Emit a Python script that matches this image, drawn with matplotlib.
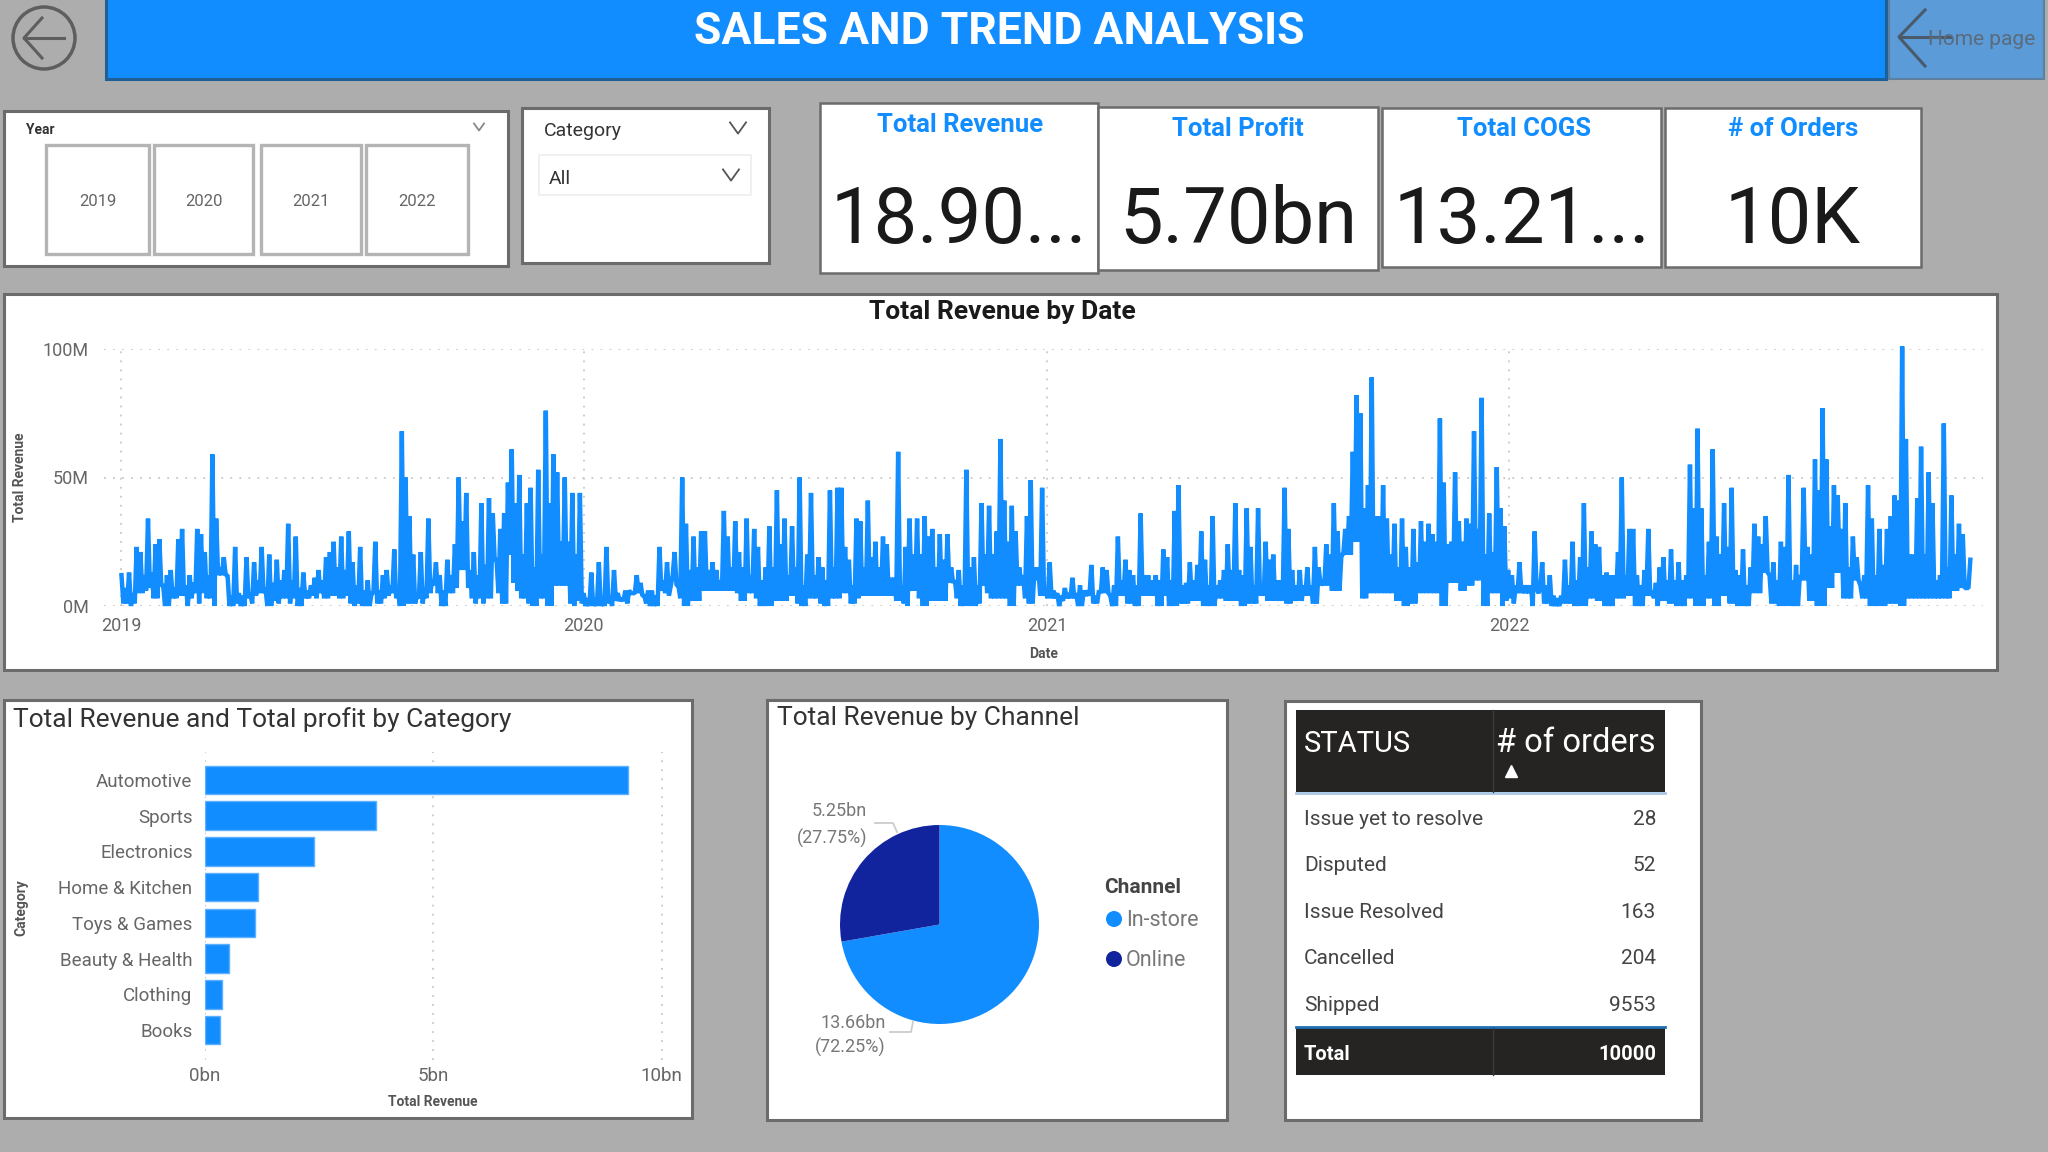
import matplotlib
matplotlib.use('Agg')
import matplotlib.pyplot as plt
import matplotlib.dates as mdates
from matplotlib.patches import Rectangle, Circle
import pandas as pd

# revenue per date in millions: upper readings every 3 days, and the dip read between them
high_2019 = [12,7,13,5,23,21,12,34,13,24,
             26,8,12,14,7,26,30,8,12,9,
             30,28,21,12,59,34,15,19,12,4,
             23,5,4,19,5,17,10,23,7,20,
             9,18,10,14,32,10,27,7,13,6,
             8,11,14,10,19,21,25,15,27,14,
             29,17,8,23,6,10,5,25,6,12,
             14,8,22,6,68,50,35,20,4,21,
             7,34,10,17,12,6,18,12,24,50,
             33,44,14,21,12,40,16,42,36,18,
             30,36,48,61,40,51,20,40,46,15,
             53,20,76,40,59,52,25,50,25,44,
             20,44]
low_2019 = [1,1,0,1,5,5,6,7,3,3,
            8,0,0,3,3,4,4,0,3,5,
            1,5,3,3,0,12,12,12,0,0,
            1,0,0,3,1,4,5,5,0,0,
            2,1,3,3,1,3,0,0,3,3,
            4,3,5,3,3,4,4,3,3,4,
            1,0,1,0,0,0,5,1,1,3,
            4,5,3,0,0,1,1,1,3,1,
            3,5,8,5,0,0,5,5,7,14,
            14,7,3,1,3,1,3,3,18,5,
            1,1,20,9,6,3,3,1,0,0,
            3,3,0,0,8,8,8,8,1,0,
            2,1]
high_2020 = [5,3,13,3,17,3,23,4,14,5,
             3,6,6,5,12,9,4,6,6,4,
             23,10,17,8,21,8,50,32,14,27,
             15,29,29,14,17,14,10,37,27,15,
             33,21,15,34,12,30,23,10,15,31,
             15,45,24,34,12,31,15,50,8,20,
             44,12,19,15,10,45,15,46,46,23,
             18,8,34,33,15,41,19,25,15,27,
             24,11,11,60,8,23,34,20,34,20,
             35,27,30,15,28,18,28,15,10,14,
             8,53,15,19,8,40,20,39,20,29,
             65,41,25,39,29,15,12,35,49,15,
             15,46]
low_2020 = [0,0,0,0,0,0,1,0,2,2,
            2,1,5,5,5,4,1,0,0,0,
            6,5,4,12,8,3,0,0,2,2,
            2,6,6,6,6,6,6,6,6,6,
            5,2,2,5,5,3,0,0,0,0,
            2,2,2,2,4,4,1,0,0,3,
            3,3,1,0,0,3,3,3,5,5,
            1,1,3,4,4,4,4,4,4,4,
            4,4,2,2,1,0,6,6,3,0,
            0,2,2,2,2,2,9,9,3,0,
            0,0,0,0,1,8,5,3,3,3,
            3,3,0,0,8,8,3,1,1,10,
            4,4]
high_2021 = [6,17,6,5,4,7,5,11,5,8,
             6,6,16,4,6,15,14,4,8,27,
             10,18,14,12,8,36,12,12,10,12,
             10,22,19,10,37,47,8,9,17,10,
             16,29,18,8,35,8,10,14,24,14,
             40,14,12,38,23,8,38,8,25,18,
             20,10,10,46,30,14,8,14,8,15,
             8,23,15,10,24,20,40,29,20,30,
             35,60,82,75,38,47,89,35,35,47,
             34,20,32,15,34,23,15,30,17,33,
             25,32,28,25,73,48,24,25,52,33,
             25,34,32,68,30,81,20,36,21,54,
             38,31]
low_2021 = [3,3,3,0,2,3,3,3,0,0,
            4,4,1,1,5,5,5,0,0,4,
            4,1,1,0,0,4,4,4,4,0,
            0,4,0,0,0,1,1,1,2,2,
            2,0,0,0,0,3,3,2,2,2,
            2,0,0,1,1,1,4,4,2,2,
            2,2,2,1,1,2,2,2,4,4,
            1,1,8,8,8,6,6,6,20,20,
            20,25,25,3,3,5,5,5,5,5,
            5,5,2,2,0,0,1,1,5,5,
            5,5,5,5,0,0,9,9,9,6,
            6,8,8,10,10,0,0,5,5,5,
            0,2]
high_2022 = [14,12,8,17,8,8,8,29,5,17,
             8,12,4,3,4,18,8,25,10,19,
             40,15,29,24,23,12,13,12,12,21,
             50,12,30,30,12,8,14,30,6,9,
             15,19,10,22,10,17,10,12,55,38,
             69,38,12,25,61,27,20,40,23,46,
             14,12,22,8,15,32,27,24,35,12,
             17,10,25,23,51,10,16,12,46,23,
             20,57,45,77,57,31,47,43,30,40,
             15,27,19,8,12,47,34,12,30,16,
             30,35,43,41,101,65,20,20,42,62,
             20,52,40,10,12,71,15,43,20,32,
             28,7,18]
low_2022 = [3,1,5,5,5,5,0,7,7,1,
            1,0,0,0,1,1,1,0,0,0,
            0,3,3,2,2,0,0,0,3,3,
            3,4,4,0,0,0,4,4,3,0,
            2,2,1,1,0,0,0,3,3,0,
            0,0,3,3,0,0,4,4,1,1,
            0,0,0,0,5,5,5,13,13,1,
            1,0,0,0,0,0,0,10,10,2,
            2,0,0,0,7,7,13,13,3,3,
            3,10,10,3,3,0,0,0,0,0,
            1,1,1,0,0,3,3,3,3,3,
            3,3,3,3,3,3,3,6,6,7,
            7,7]

years = ['2019', '2020', '2021', '2022']
categories = ['Automotive', 'Sports', 'Electronics', 'Home & Kitchen', 'Toys & Games', 'Beauty & Health', 'Clothing', 'Books']
cat_revenue = [9.27, 3.74, 2.38, 1.16, 1.10, 0.53, 0.38, 0.32]
channels = ['In-store', 'Online']
channel_revenue = [13.66, 5.25]
channel_share = [72.25, 27.75]
status = ['Issue yet to resolve', 'Disputed', 'Issue Resolved', 'Cancelled', 'Shipped']
status_orders = [28, 52, 163, 204, 9553]
kpi_names = ['Total Revenue', 'Total Profit', 'Total COGS', '# of Orders']
kpi_values = ['18.90...', '5.70bn', '13.21...', '10K']

BLUE = '#118DFF'
NAVY = '#12239E'
W, H = 2048, 1152
plt.rcParams['font.family'] = ['Roboto', 'DejaVu Sans']

fig = plt.figure(figsize=(W / 100, H / 100), dpi=100, facecolor='#ADADAD')
bg = fig.add_axes([0, 0, 1, 1])
bg.set_xlim(0, W)
bg.set_ylim(H, 0)
bg.axis('off')


def px_axes(x0, y0, x1, y1):
    ax = fig.add_axes([x0 / W, 1 - y1 / H, (x1 - x0) / W, (y1 - y0) / H])
    ax.patch.set_alpha(0)
    return ax


def panel(x0, y0, x1, y1, lw=2.2):
    bg.add_patch(Rectangle((x0, y0), x1 - x0, y1 - y0, fc='white', ec='#6B6B6B', lw=lw))


def chevron(x, y, size=8, color='#555555'):
    bg.plot([x - size, x, x + size], [y - size * 0.7, y + size * 0.7, y - size * 0.7], color=color, lw=1.3)


def label(x, y, s, **kw):
    kw.setdefault('va', 'center')
    return bg.text(x, y + 2.5, s, **kw)


# header
bg.add_patch(Rectangle((106, -3), 1780, 82, fc=BLUE, ec='#1D5F96', lw=2.2))
label(999, 30, 'SALES AND TREND ANALYSIS', color='white', fontsize=32, fontweight='bold', ha='center')
bg.add_patch(Circle((44, 38), 31, fc='none', ec='#5E5E5E', lw=2.5))
bg.plot([24, 64], [38, 38], color='#5E5E5E', lw=2.2)
bg.plot([42, 24, 42], [18, 38, 58], color='#5E5E5E', lw=2.2)
bg.add_patch(Rectangle((1889, -3), 155, 82, fc='#5B9BD8', ec='#5F7F9F', lw=1.5))
bg.plot([1900, 1950], [37, 37], color='#4A5A6A', lw=2.2)
bg.plot([1925, 1899, 1925], [10, 37, 66], color='#4A5A6A', lw=2.2)
label(1982, 37, 'Home page', color='#5A6B7C', fontsize=15, ha='center')

# year slicer
panel(4, 111, 508, 266)
label(26, 127, 'Year', color='#333333', fontsize=10, fontweight='bold')
chevron(479, 127, 5, '#888888')
button_x = [(46, 149), (154, 253), (261, 361), (366, 468)]
for (x0, x1), yr in zip(button_x, years):
    bg.add_patch(Rectangle((x0, 145), x1 - x0, 109, fc='white', ec='#B4B4B4', lw=2.4))
    label((x0 + x1) / 2, 199, yr, color='#666666', fontsize=12, ha='center')

# category slicer
panel(522, 108, 769, 263)
label(544, 128, 'Category', color='#333333', fontsize=14)
chevron(738, 128)
bg.add_patch(Rectangle((539, 155), 212, 40, fc='white', ec='#EEEEEE', lw=1.2))
label(549, 176, 'All', color='#333333', fontsize=14)
chevron(731, 175)

# kpi cards
card_x = [(820, 1098), (1098, 1378), (1382, 1661), (1665, 1921)]
card_y = [(103, 273), (107, 270), (108, 267), (108, 267)]
label_x = [960, 1238, 1524, 1793]
label_y = [122, 127, 127, 127]
for i in range(4):
    x0, x1 = card_x[i]
    y0, y1 = card_y[i]
    panel(x0, y0, x1, y1, 1.8)
    label(label_x[i], label_y[i], kpi_names[i], color=BLUE, fontsize=18.5, fontweight='bold', ha='center')
    label((x0 + x1) / 2, 219, kpi_values[i], color='#1A1A1A', fontsize=56, ha='center')

# revenue by date
panel(4, 294, 1997, 670)
rev_values = []
for high, low in [(high_2019, low_2019), (high_2020, low_2020), (high_2021, low_2021), (high_2022, low_2022)]:
    for h, l in zip(high, low):
        rev_values += [h, l]
rev_values.append(high_2022[-1])
rev_dates = pd.date_range('2019-01-01', '2022-12-31', periods=len(rev_values))
ax = px_axes(104, 349, 1983, 606)
ax.plot(rev_dates, rev_values, color=BLUE, lw=3.2, clip_on=False, solid_joinstyle='bevel')
start = mdates.date2num(pd.Timestamp('2019-01-01'))
ax.set_xlim(start - 13.8, start + 1470)
ax.set_ylim(0, 100)
ax.set_yticks([0, 50, 100], ['0M', '50M', '100M'])
ax.set_xticks([mdates.date2num(pd.Timestamp(y + '-01-01')) for y in years], years)
ax.tick_params(length=0, labelcolor='#666666', labelsize=13)
ax.tick_params(axis='y', pad=11)
ax.tick_params(axis='x', pad=8)
ax.grid(color='#C8C8C8', linestyle=(0, (1, 4)), lw=1.3)
ax.set_axisbelow(True)
for s in ax.spines.values():
    s.set_visible(False)
label(1002, 309, 'Total Revenue by Date', color='#1A1A1A', fontsize=19, fontweight='bold', ha='center')
label(20, 475, 'Total Revenue', color='#555555', fontsize=10, fontweight='bold', rotation=90, ha='center')
label(1044, 651, 'Date', color='#555555', fontsize=10, fontweight='bold', ha='center')

# revenue by category
panel(4, 700, 692, 1118)
label(13, 717, 'Total Revenue and Total profit by Category', color='#333333', fontsize=19)
ax = px_axes(205, 752, 685, 1060)
ax.barh(categories, cat_revenue, height=0.8, color=BLUE, edgecolor='#5DB0FF', lw=1)
ax.set_xlim(0, 480 / 45.67)
ax.set_ylim(7.84, -0.78)
ax.set_xticks([0, 5, 10], ['0bn', '5bn', '10bn'])
ax.tick_params(length=0, labelcolor='#666666', labelsize=13.5)
ax.tick_params(axis='y', pad=9)
ax.tick_params(axis='x', pad=5)
ax.grid(axis='x', color='#C8C8C8', linestyle=(0, (1, 4)), lw=1.3)
ax.set_axisbelow(True)
for s in ax.spines.values():
    s.set_visible(False)
label(21, 905, 'Category', color='#555555', fontsize=10, fontweight='bold', rotation=90, ha='center')
label(433, 1100, 'Total Revenue', color='#555555', fontsize=10, fontweight='bold', ha='center')

# revenue by channel
panel(767, 700, 1227, 1120)
label(777, 716, 'Total Revenue by Channel', color='#333333', fontsize=19)
ax = px_axes(840, 825, 1039, 1024)
ax.pie(channel_revenue, colors=[BLUE, NAVY], startangle=90, counterclock=False, radius=1)
ax.set_xlim(-1, 1)
ax.set_ylim(-1, 1)
label(867, 809, f'{channel_revenue[1]:.2f}bn', color='#777777', fontsize=13, ha='right')
label(867, 836, f'({channel_share[1]:.2f}%)', color='#777777', fontsize=13, ha='right')
label(886, 1020, f'{channel_revenue[0]:.2f}bn', color='#777777', fontsize=13, ha='right')
label(886, 1045, f'({channel_share[0]:.2f}%)', color='#777777', fontsize=13, ha='right')
bg.plot([875, 893, 897], [823, 823, 832], color='#CCCCCC', lw=1.3)
bg.plot([890, 911, 913], [1032, 1032, 1022], color='#CCCCCC', lw=1.3)
label(1104, 885, 'Channel', color='#444444', fontsize=15, fontweight='bold')
for yy, name, col in zip([919, 959], channels, [BLUE, NAVY]):
    bg.add_patch(Circle((1114, yy), 8, fc=col, ec='none'))
    label(1126, yy - 1, name, color='#777777', fontsize=15.5)

# status table
panel(1285, 701, 1701, 1120)
bg.add_patch(Rectangle((1296, 710), 369, 82, fc='#252423', ec='none'))
bg.plot([1296, 1665], [793, 793], color='#A9C8E8', lw=2)
bg.plot([1493, 1493], [710, 792], color='#3A3A3A', lw=1)
label(1304, 741, 'STATUS', color='white', fontsize=21)
label(1656, 741, '# of orders', color='white', fontsize=23.5, ha='right')
bg.plot([1511], [771], marker='^', color='white', ms=9)
row_y = [818, 864, 911, 957, 1004]
for yy, name, n in zip(row_y, status, status_orders):
    label(1304, yy - 1, name, color='#444444', fontsize=15)
    label(1656, yy - 1, str(n), color='#444444', fontsize=15, ha='right')
bg.add_patch(Rectangle((1296, 1027), 369, 48, fc='#252423', ec='none'))
bg.plot([1296, 1665], [1027, 1027], color='#1F6FB5', lw=2)
bg.plot([1493, 1493], [1028, 1075], color='#3A3A3A', lw=1)
label(1304, 1052, 'Total', color='white', fontsize=14.5, fontweight='bold')
label(1656, 1052, str(sum(status_orders)), color='white', fontsize=14.5, fontweight='bold', ha='right')

fig.savefig('out.png', dpi=100, facecolor=fig.get_facecolor())
